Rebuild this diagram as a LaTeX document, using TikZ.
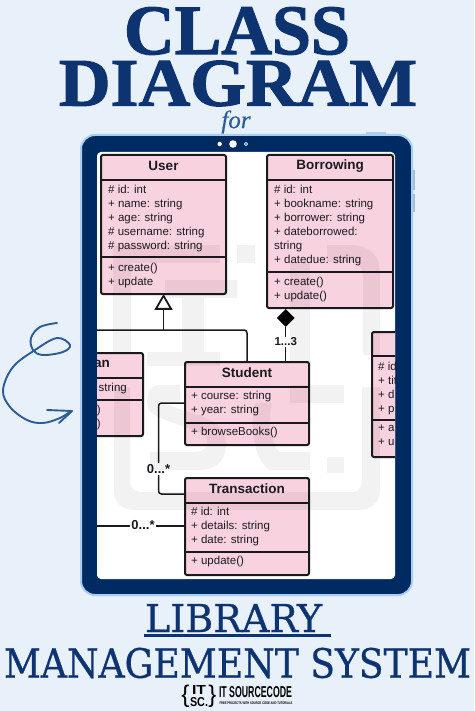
\documentclass[tikz,border=0pt]{standalone}
\usepackage{fontspec}
\usepackage{graphicx}
\setmainfont{Liberation Sans}
\newfontfamily\heavyf[FakeBold=1.6]{Liberation Serif Bold}
\newfontfamily\slabf[FakeBold=0.7]{DejaVu Serif}
\newfontfamily\forf[FakeBold=0.5]{Liberation Serif Italic}
\newfontfamily\condf{Liberation Sans Bold}
\usetikzlibrary{shapes.geometric}
\definecolor{bgc}{HTML}{E8F0FA}
\definecolor{navy}{HTML}{002A62}
\definecolor{titlec}{HTML}{0D3470}
\definecolor{edgec}{HTML}{A9CEF0}
\definecolor{pinkc}{HTML}{F9D2DF}
\definecolor{linec}{HTML}{1A1A1E}
\definecolor{inkc}{HTML}{2C5C94}
\newcommand{\fit}[3]{\resizebox{#1pt}{#2pt}{#3}}
\tikzset{
  classbox/.style={draw=linec,line width=2pt,fill=pinkc,rounded corners=2pt,inner sep=0pt,outer sep=0pt},
  divider/.style={draw=linec,line width=2pt},
  conn/.style={draw=linec,line width=1.5pt,rounded corners=3pt},
  ctitle/.style={inner sep=0pt,font=\fontsize{13.5}{15}\selectfont\bfseries,text=linec},
  body/.style={inner sep=0pt,anchor=north west,align=left,text=linec,font=\fontsize{11.5}{14}\selectfont},
  mult/.style={fill=white,inner sep=1pt,font=\fontsize{13}{14}\selectfont\bfseries,text=linec},
  big/.style={inner sep=0pt,text=titlec},
  wmark/.style={fill=black,fill opacity=.05,draw=none},
}
\begin{document}
\begin{tikzpicture}[x=1pt,y=-1pt]
\useasboundingbox (0,0) rectangle (474,711);
\fill[bgc] (0,0) rectangle (474,711);
% titles
\node[big] (t1) at (237,31) {\fit{226}{47}{\heavyf CLASS}};
\node[big] (t2) at (238,83.5) {\fit{358}{45}{\heavyf DIAGRAM}};
\node[inner sep=0pt,text=inkc] (t3) at (236,122) {\fontsize{25}{25}\selectfont\forf for};
\node[big] (t4) at (233.5,618) {\fit{177}{28}{\slabf LIBRARY}};
\draw[titlec,line width=3pt] (144,635.5) -- (331,635.5);
\node[big] (t5) at (237.5,663) {\fit{467}{30}{\slabf MANAGEMENT SYSTEM}};
% tablet
\fill[edgec] (366,132.5) rectangle (386,136);
\fill[edgec!80!gray] (411,170) rectangle (414.5,190);
\fill[edgec!80!gray] (411,194) rectangle (414.5,212);
\draw[edgec,line width=2pt,fill=navy,rounded corners=14pt] (81,135) rectangle (412,595);
\fill[white,rounded corners=4pt] (97,152) rectangle (395,579);
\fill[white] (219.7,144) circle (2.2);
\fill[white] (233,144) circle (3.8);
\draw[white,line width=.7pt] (246,144) circle (1.6);
\begin{scope}
\clip[rounded corners=4pt] (97,152) rectangle (395,579);
% class boxes
\node[classbox,minimum width=125pt,minimum height=139pt] (user) at (163.5,224.5) {};
\node[classbox,minimum width=126pt,minimum height=153pt] (borrow) at (330,231.5) {};
\node[classbox,minimum width=124pt,minimum height=83pt] (student) at (247,403.5) {};
\node[classbox,minimum width=124pt,minimum height=97pt] (trans) at (247,526.5) {};
\node[classbox,minimum width=90pt,minimum height=83pt] (plan) at (98,394.5) {};
\node[classbox,minimum width=60pt,minimum height=125pt] (book) at (402,394.5) {};
\coordinate (offl) at (90,330);
\coordinate (offb) at (90,526);
\node[draw=linec,line width=1.8pt,fill=white,regular polygon,regular polygon sides=3,minimum size=17.5pt,inner sep=0pt] (tri) at (163.5,304.5) {};
\node[draw=none,fill=black,diamond,minimum width=18pt,minimum height=18pt,inner sep=0pt] (dia) at (285.7,318) {};
\draw[conn] (student.north) -- (student.north |- offl) -- (offl);
\draw[conn] (tri.south) -- (tri.south |- offl);
\draw[conn] (dia.south) -- (dia.south |- student.north);
\draw[conn] (student.west |- 0,403) -- (158.5,403) -- (158.5,494) -- (trans.west |- 0,494);
\draw[conn] (offb) -- (trans.west |- offb);
\node[mult,fill=white] (m1) at (285.7,342) {\fontsize{11.5}{12}\selectfont 1...3};
\node[mult] (m2) at (158.5,469) {0...*};
\node[mult] (m3) at (143,525) {0...*};
% dividers
\foreach \y in {180,257} \draw[divider] (user.west |- 0,\y) -- (user.east |- 0,\y);
\foreach \y in {180,272} \draw[divider] (borrow.west |- 0,\y) -- (borrow.east |- 0,\y);
\foreach \y in {387,423} \draw[divider] (student.west |- 0,\y) -- (student.east |- 0,\y);
\foreach \y in {503,552} \draw[divider] (trans.west |- 0,\y) -- (trans.east |- 0,\y);
\foreach \y in {378,400} \draw[divider] (plan.west |- 0,\y) -- (plan.east |- 0,\y);
\foreach \y in {356,420} \draw[divider] (book.west |- 0,\y) -- (book.east |- 0,\y);
% texts
\node[ctitle] (userT) at (163.5,166) {User};
\node[body] (userA) at (108,185) {\# id: int\\+ name: string\\+ age: string\\\# username: string\\\# password: string};
\node[body] (userM) at (108,262.5) {+ create()\\+ update};
\node[ctitle] (borT) at (330,166) {Borrowing};
\node[body] (borA) at (274,185) {\# id: int\\+ bookname: string\\+ borrower: string\\+ dateborrowed:\\string\\+ datedue: string};
\node[body] (borM) at (274,276.5) {+ create()\\+ update()};
\node[ctitle] (stuT) at (247,372.5) {Student};
\node[body] (stuA) at (191,391) {+ course: string\\+ year: string};
\node[body] (stuM) at (191,427) {+ browseBooks()};
\node[ctitle] (traT) at (247,488.5) {Transaction};
\node[body] (traA) at (191,507) {\# id: int\\+ details: string\\+ date: string};
\node[body] (traM) at (191,556) {+ update()};
\node[ctitle,anchor=east] (plaT) at (110,363.5) {an};
\node[body,anchor=north east] (plaA) at (127,383) {string};
\node[body,anchor=north east] (plaM) at (101,405) {)\\)};
\node[body] (booA) at (378,361.5) {\# id\\+ title\\+ d\\+ p};
\node[body] (booM) at (378,425) {+ a\\+ u};
% watermark
\fill[wmark] (113,245) rectangle (220,263);
\fill[wmark] (113,263) rectangle (131,352);
\fill[wmark] (237,245) rectangle (255,263);
\fill[wmark] (165,280) rectangle (237,298);
\fill[wmark] (182,298) rectangle (204,352);
\fill[wmark] (290,262) rectangle (310,362);
\fill[wmark] (327,245) -- (350,245) .. controls (372,245) and (380,258) .. (380,272) -- (380,355) -- (363,355) -- (363,275) .. controls (363,268) and (358,262) .. (350,262) -- (327,262) -- cycle;
\fill[wmark] (147,352) rectangle (220,366);
\fill[wmark] (114,387) -- (130,387) -- (130,480) .. controls (130,487) and (134,492) .. (140,492) -- (354,492) .. controls (358,492) and (362,487) .. (362,480) -- (362,387) -- (380,387) -- (380,490) .. controls (380,503) and (370,510) .. (360,510) -- (135,510) .. controls (122,510) and (114,503) .. (114,490) -- cycle;
\fill[wmark] (160,385) .. controls (150,385) and (145,395) .. (148,408) .. controls (150,418) and (185,425) .. (205,435) .. controls (210,445) and (205,452) .. (195,452) -- (150,452) -- (150,470) -- (200,470) .. controls (222,470) and (232,450) .. (222,430) .. controls (215,415) and (170,410) .. (165,402) -- (180,402) -- (180,385) -- cycle;
\fill[wmark] (290,385) rectangle (344,403);
\fill[wmark] (255,403) .. controls (250,420) and (252,460) .. (270,470) -- (310,470) -- (310,452) -- (280,452) .. controls (270,445) and (268,415) .. (272,403) -- cycle;
\fill[wmark] (327,457) rectangle (344,473);
\end{scope}
% squiggle arrow
\draw[inkc,line width=1.9pt,line cap=round] plot[smooth,tension=.6] coordinates {(57,323) (40,327) (31,338) (33,350) (43,355) (63,352) (70,345) (57,338) (35,350) (13,367) (3,390) (10,407) (27,420) (43,423) (60,418) (71,411)};
\draw[inkc,line width=1.9pt,line cap=round,line join=round] (47,410) -- (72,411) -- (59,423);
% logo
\node[inner sep=0pt,text=black] (b1) at (185.5,696) {\fontsize{24}{24}\selectfont\{};
\node[inner sep=0pt,text=black] (b2) at (212.5,696) {\fontsize{24}{24}\selectfont\}};
\node[inner sep=0pt,text=black] (li) at (199,689.5) {\fit{14}{9}{\condf IT}};
\node[inner sep=0pt,text=black] (ls) at (199,702) {\fit{18}{9}{\condf SC.}};
\node[inner sep=0pt,text=black] (lt) at (255.5,692) {\fit{73}{11}{\condf IT SOURCECODE}};
\node[inner sep=0pt,text=black] (lu) at (256,703) {\fit{73}{2.6}{\condf FREE PROJECTS WITH SOURCE CODE AND TUTORIALS}};
\end{tikzpicture}
\end{document}
